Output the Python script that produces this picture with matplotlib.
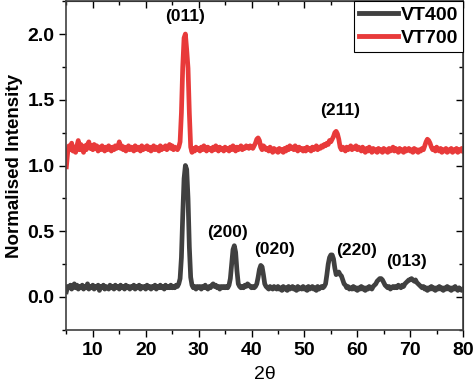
import numpy as np
import matplotlib
matplotlib.use("Agg")
import matplotlib.pyplot as plt
from matplotlib.ticker import MultipleLocator

# 2theta grid: 5 to 80 deg, 0.25 deg step
two_theta = np.arange(5, 80.001, 0.25)

# VT400 (black), one row per 5 deg
vt400 = [
    0.04, 0.08, 0.07, 0.09, 0.06, 0.08, 0.10, 0.07, 0.09, 0.06, 0.08, 0.07, 0.09, 0.06, 0.08, 0.07, 0.10, 0.06, 0.08, 0.07,
    0.09, 0.06, 0.08, 0.07, 0.09, 0.05, 0.08, 0.07, 0.09, 0.06, 0.08, 0.07, 0.06, 0.09, 0.07, 0.08, 0.06, 0.09, 0.07, 0.08,
    0.06, 0.09, 0.07, 0.08, 0.06, 0.09, 0.07, 0.08, 0.06, 0.08, 0.07, 0.09, 0.06, 0.08, 0.07, 0.09, 0.06, 0.08, 0.07, 0.08,
    0.06, 0.09, 0.07, 0.08, 0.06, 0.08, 0.07, 0.09, 0.06, 0.08, 0.07, 0.09, 0.07, 0.08, 0.06, 0.09, 0.07, 0.08, 0.07, 0.09,
    0.07, 0.08, 0.07, 0.09, 0.08, 0.10, 0.14, 0.30, 0.62, 0.90, 1.00, 0.97, 0.75, 0.38, 0.15, 0.09, 0.07, 0.08, 0.06, 0.08,
    0.07, 0.08, 0.06, 0.08, 0.07, 0.09, 0.07, 0.06, 0.08, 0.07, 0.09, 0.10, 0.08, 0.09, 0.07, 0.08, 0.06, 0.08, 0.07, 0.08,
    0.07, 0.08, 0.07, 0.09, 0.14, 0.25, 0.36, 0.39, 0.34, 0.20, 0.10, 0.08, 0.07, 0.08, 0.07, 0.09, 0.08, 0.10, 0.09, 0.08,
    0.07, 0.08, 0.07, 0.08, 0.10, 0.15, 0.21, 0.24, 0.23, 0.17, 0.10, 0.08, 0.07, 0.06, 0.08, 0.07, 0.06, 0.08, 0.07, 0.06,
    0.08, 0.06, 0.07, 0.05, 0.08, 0.06, 0.07, 0.05, 0.08, 0.06, 0.07, 0.08, 0.06, 0.07, 0.05, 0.08, 0.06, 0.07, 0.06, 0.08,
    0.06, 0.07, 0.05, 0.08, 0.06, 0.07, 0.08, 0.06, 0.07, 0.05, 0.08, 0.06, 0.07, 0.08, 0.07, 0.08, 0.10, 0.17, 0.25, 0.30,
    0.32, 0.32, 0.29, 0.22, 0.17, 0.18, 0.19, 0.17, 0.16, 0.13, 0.10, 0.09, 0.07, 0.08, 0.06, 0.07, 0.06, 0.08, 0.06, 0.07,
    0.05, 0.07, 0.06, 0.08, 0.06, 0.07, 0.05, 0.07, 0.06, 0.08, 0.07, 0.06, 0.08, 0.09, 0.10, 0.12, 0.13, 0.14, 0.14, 0.13,
    0.11, 0.09, 0.08, 0.07, 0.08, 0.06, 0.07, 0.08, 0.07, 0.08, 0.07, 0.09, 0.08, 0.07, 0.09, 0.08, 0.10, 0.11, 0.12, 0.13,
    0.13, 0.14, 0.13, 0.12, 0.13, 0.11, 0.10, 0.09, 0.08, 0.07, 0.08, 0.06, 0.07, 0.05, 0.07, 0.06, 0.08, 0.06, 0.07, 0.05,
    0.07, 0.06, 0.08, 0.06, 0.07, 0.05, 0.07, 0.06, 0.08, 0.06, 0.07, 0.05, 0.07, 0.06, 0.08, 0.06, 0.05, 0.07, 0.06, 0.05,
    0.06,
]

# VT700 (red), one row per 5 deg
vt700 = [
    0.99, 1.10, 1.15, 1.12, 1.17, 1.11, 1.14, 1.10, 1.15, 1.19, 1.12, 1.16, 1.13, 1.10, 1.15, 1.12, 1.16, 1.18, 1.13, 1.15,
    1.12, 1.16, 1.13, 1.15, 1.11, 1.14, 1.12, 1.15, 1.13, 1.11, 1.14, 1.12, 1.15, 1.13, 1.11, 1.14, 1.12, 1.15, 1.13, 1.14,
    1.18, 1.13, 1.15, 1.12, 1.14, 1.11, 1.13, 1.15, 1.12, 1.14, 1.13, 1.11, 1.15, 1.12, 1.14, 1.13, 1.11, 1.15, 1.12, 1.14,
    1.13, 1.15, 1.12, 1.14, 1.11, 1.13, 1.15, 1.12, 1.14, 1.13, 1.11, 1.15, 1.12, 1.14, 1.13, 1.15, 1.12, 1.14, 1.16, 1.13,
    1.15, 1.12, 1.14, 1.13, 1.12, 1.14, 1.18, 1.40, 1.75, 1.97, 2.00, 1.88, 1.74, 1.40, 1.14, 1.10, 1.13, 1.11, 1.14, 1.12,
    1.13, 1.11, 1.14, 1.12, 1.15, 1.13, 1.11, 1.14, 1.12, 1.13, 1.11, 1.14, 1.12, 1.15, 1.13, 1.11, 1.14, 1.12, 1.13, 1.11,
    1.14, 1.12, 1.13, 1.11, 1.14, 1.12, 1.15, 1.13, 1.11, 1.14, 1.12, 1.13, 1.15, 1.12, 1.14, 1.13, 1.15, 1.14, 1.13, 1.15,
    1.14, 1.13, 1.15, 1.17, 1.20, 1.21, 1.19, 1.14, 1.12, 1.15, 1.14, 1.12, 1.13, 1.11, 1.14, 1.12, 1.10, 1.13, 1.11, 1.12,
    1.10, 1.13, 1.11, 1.12, 1.10, 1.13, 1.11, 1.14, 1.12, 1.15, 1.13, 1.14, 1.12, 1.15, 1.13, 1.11, 1.14, 1.12, 1.13, 1.11,
    1.13, 1.11, 1.14, 1.12, 1.13, 1.11, 1.14, 1.12, 1.13, 1.15, 1.12, 1.14, 1.13, 1.15, 1.14, 1.16, 1.15, 1.17, 1.16, 1.19,
    1.18, 1.20, 1.22, 1.25, 1.26, 1.24, 1.20, 1.14, 1.12, 1.14, 1.13, 1.11, 1.14, 1.12, 1.13, 1.15, 1.12, 1.14, 1.13, 1.15,
    1.12, 1.14, 1.13, 1.11, 1.14, 1.12, 1.10, 1.13, 1.11, 1.14, 1.12, 1.10, 1.13, 1.11, 1.12, 1.10, 1.13, 1.11, 1.12, 1.10,
    1.13, 1.11, 1.12, 1.10, 1.13, 1.11, 1.12, 1.14, 1.11, 1.13, 1.12, 1.10, 1.13, 1.11, 1.12, 1.10, 1.13, 1.11, 1.12, 1.13,
    1.11, 1.12, 1.10, 1.13, 1.11, 1.12, 1.10, 1.12, 1.11, 1.13, 1.12, 1.15, 1.18, 1.20, 1.19, 1.17, 1.14, 1.12, 1.13, 1.11,
    1.14, 1.12, 1.11, 1.13, 1.10, 1.12, 1.11, 1.13, 1.10, 1.12, 1.11, 1.13, 1.10, 1.12, 1.11, 1.13, 1.10, 1.12, 1.11, 1.13,
    1.11,
]

# peak labels: (text, x, y)
peak_labels = ["(011)", "(211)", "(200)", "(020)", "(220)", "(013)"]
peak_x = [27.4, 56.7, 35.5, 44.4, 59.9, 69.3]
peak_y = [2.13, 1.42, 0.49, 0.36, 0.35, 0.27]

plt.rcParams["font.family"] = ["Liberation Sans", "DejaVu Sans"]

fig = plt.figure(figsize=(4.74, 3.84), dpi=100)
ax = fig.add_axes([0.140, 0.141, 0.837, 0.856])

ax.plot(two_theta, vt400, color="#404040", lw=3.4, label="VT400")
ax.plot(two_theta, vt700, color="#e83a3a", lw=3.4, label="VT700")

for t, x, y in zip(peak_labels, peak_x, peak_y):
    ax.text(x, y, t, ha="center", va="center", fontsize=12.5, fontweight="bold")

ax.set_xlim(5, 80)
ax.set_ylim(-0.25, 2.25)
ax.xaxis.set_major_locator(MultipleLocator(10))
ax.xaxis.set_minor_locator(MultipleLocator(5))
ax.yaxis.set_major_locator(MultipleLocator(0.5))
ax.yaxis.set_minor_locator(MultipleLocator(0.25))
ax.tick_params(which="both", direction="out", width=1, labelsize=14)
ax.tick_params(which="major", length=5)
ax.tick_params(which="minor", length=3)
for lab in ax.get_xticklabels() + ax.get_yticklabels():
    lab.set_fontweight("bold")

# mirrored ticks on top / right, pointing inward
axt = ax.secondary_xaxis("top")
axt.xaxis.set_major_locator(MultipleLocator(10))
axt.xaxis.set_minor_locator(MultipleLocator(5))
axt.tick_params(which="both", direction="in", labeltop=False, width=1)
axt.tick_params(which="major", length=5)
axt.tick_params(which="minor", length=3)
axr = ax.secondary_yaxis("right")
axr.yaxis.set_major_locator(MultipleLocator(0.5))
axr.yaxis.set_minor_locator(MultipleLocator(0.25))
axr.tick_params(which="both", direction="in", labelright=False, width=1)
axr.tick_params(which="major", length=5)
axr.tick_params(which="minor", length=3)

for s in ax.spines.values():
    s.set_color("#404040")
    s.set_linewidth(1.2)

ax.set_xlabel("2θ", fontsize=14, labelpad=5)
ax.set_ylabel("Normalised Intensity", fontsize=13.5, fontweight="bold", labelpad=3)

leg = ax.legend(loc="upper right", borderaxespad=0, fancybox=False, framealpha=1,
                edgecolor="black", handlelength=2.0, handletextpad=0.15,
                borderpad=0.25, labelspacing=0.3, prop={"weight": "bold", "size": 14})
leg.get_frame().set_linewidth(0.8)
for line in leg.get_lines():
    line.set_linewidth(3.5)

fig.savefig("out.png", dpi=100)
